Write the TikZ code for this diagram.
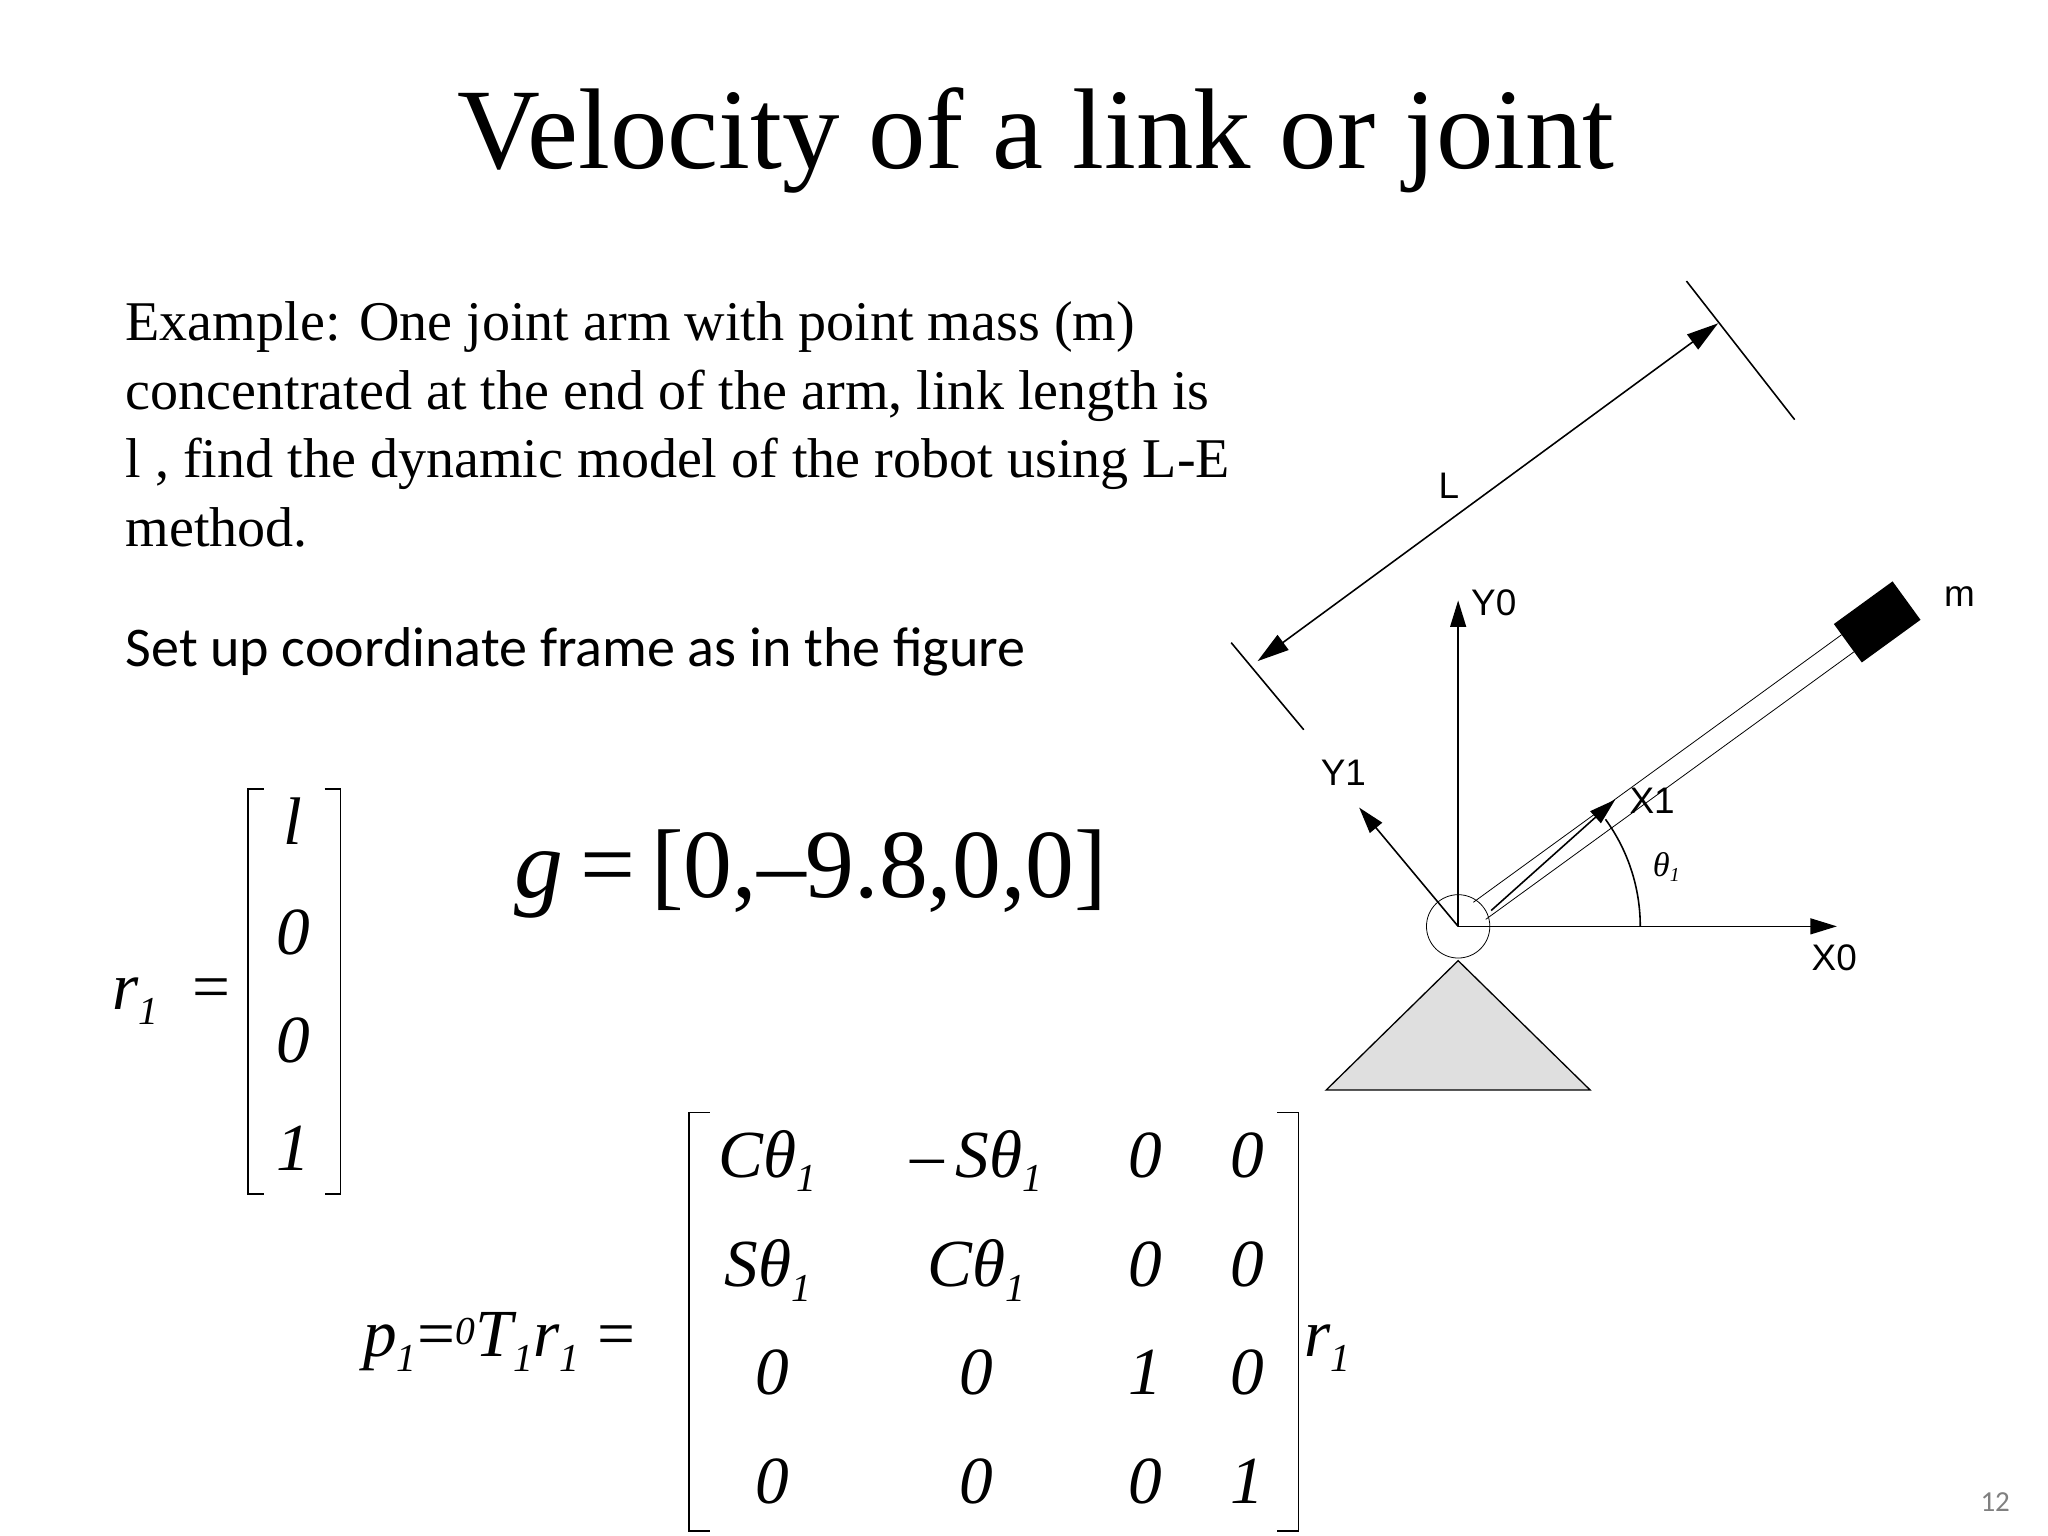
\documentclass[tikz,border=0pt]{standalone}
\usepackage{fontspec}
\setmainfont{Liberation Serif}
\newfontfamily\calfnt{Carlito}
\newfontfamily\ars{Liberation Sans}
\usetikzlibrary{arrows.meta,patterns}
\newcommand{\sbb}[1]{\textsubscript{\fontsize{30}{30}\selectfont #1}}
\begin{document}
\begin{tikzpicture}[x=1pt,y=-1pt,
  tx/.style={anchor=base west,inner sep=0},
  mi/.style={anchor=base,inner sep=0,font=\fontsize{51}{50}\selectfont\itshape},
  ax/.style={line width=1.2pt,-{Triangle[length=20pt,width=12pt]}},
  lab/.style={font=\ars\fontsize{28}{30}\selectfont,inner sep=0},
  brk/.style={line width=1.3pt}]
\path[use as bounding box] (0,0) rectangle (1552,1164);
\node[anchor=base,inner sep=0,font=\fontsize{87}{90}\selectfont] (title) at (785,128) {Velocity of a link or joint};
\node[tx,font=\fontsize{42.5}{52}\selectfont] (p1) at (95,258) {Example: One joint arm with point mass (m)};
\node[tx,font=\fontsize{42.5}{52}\selectfont] (p2) at (95,310) {concentrated at the end of the arm, link length is};
\node[tx,font=\fontsize{42.5}{52}\selectfont] (p3) at (95,362) {l , find the dynamic model of the robot using L-E};
\node[tx,font=\fontsize{42.5}{52}\selectfont] (p4) at (95,414) {method.};
\node[tx,font=\calfnt\fontsize{42.5}{45}\selectfont] (su) at (95,505) {Set up coordinate frame as in the figure};
% r1 vector
\node[mi,anchor=base west] (r1) at (85,765) {r\sbb{1}\ \ \upshape=};
\draw[brk] (200,598) -- (188,598) -- (188,905) -- (200,905);
\draw[brk] (246,598) -- (258,598) -- (258,905) -- (246,905);
\node[mi] (a1) at (222,640) {l};
\node[mi] (a2) at (222,723) {0};
\node[mi] (a3) at (222,805) {0};
\node[mi] (a4) at (222,887) {1};
\node[tx,font=\fontsize{74}{80}\selectfont] (g) at (390,680) {\textit{g}\,=\,[0,--9.8,0,0]};
% p1 matrix
\node[mi,anchor=base west] (pp) at (275,1028) {p\sbb{1}{\upshape=}\textsuperscript{\fontsize{30}{30}\selectfont 0}T\sbb{1}r\sbb{1}\ {\upshape=}};
\draw[brk] (538,843) -- (522,843) -- (522,1160) -- (538,1160);
\draw[brk] (968,843) -- (984,843) -- (984,1160) -- (968,1160);
\node[mi,anchor=base west] (rr) at (988,1028) {r\sbb{1}};
\node[mi] at (582,892) {Cθ\sbb{1}};
\node[mi] at (740,892) {{\upshape–}\,Sθ\sbb{1}};
\node[mi] at (868,892) {0};
\node[mi] at (945,892) {0};
\node[mi] at (582,975) {Sθ\sbb{1}};
\node[mi] at (740,975) {Cθ\sbb{1}};
\node[mi] at (868,975) {0};
\node[mi] at (945,975) {0};
\node[mi] at (585,1057) {0};
\node[mi] at (740,1057) {0};
\node[mi] at (868,1057) {1};
\node[mi] at (945,1057) {0};
\node[mi] at (585,1139) {0};
\node[mi] at (740,1139) {0};
\node[mi] at (868,1139) {0};
\node[mi] at (945,1139) {1};
\node[font=\calfnt\fontsize{22}{24}\selectfont,text=gray,inner sep=0] (pn) at (1512,1138) {12};
% figure
\coordinate (O) at (1105,702);
\draw[pattern=north east lines,pattern color=gray,fill=gray!25,line width=1pt] (1105,728) -- (1205,826) -- (1005,826) -- cycle;
\draw[line width=0.6pt] (O) circle (24);
\begin{scope}[shift={(O)},rotate=36]
 \draw[line width=0.6pt] (20,-8) -- (365,-8);
 \draw[line width=0.6pt] (20,8) -- (365,8);
 \fill (365,-18) rectangle (420,18);
\end{scope}
\draw[ax] (O) -- (1392,702);
\draw[ax] (O) -- (1105,455);
\draw[ax] (O) -- (1030,612);
\draw[ax] (1130,690) -- (1224,606);
\draw[line width=1.2pt] (1243,702) arc (0:-36:138);
\node[lab] (lx0) at (1390,726) {X0};
\node[lab] (ly0) at (1132,457) {Y0};
\node[lab] (ly1) at (1018,586) {Y1};
\node[lab] (lx1) at (1252,607) {X1};
\node[lab] (lm) at (1485,452) {m};
\node[inner sep=0,font=\itshape\fontsize{26}{26}\selectfont] (th) at (1263,657) {θ\textsubscript{\fontsize{15}{15}\selectfont 1}};
% dimension
\draw[line width=1.2pt] (933,487) -- (988,553);
\draw[line width=1.2pt] (1278,213) -- (1360,318);
\draw[line width=1.2pt,{Triangle[length=24pt,width=14pt]}-{Triangle[length=24pt,width=14pt]}] (953,501) -- (1302,245);
\node[lab] (lL) at (1098,368) {L};
\end{tikzpicture}
\end{document}
